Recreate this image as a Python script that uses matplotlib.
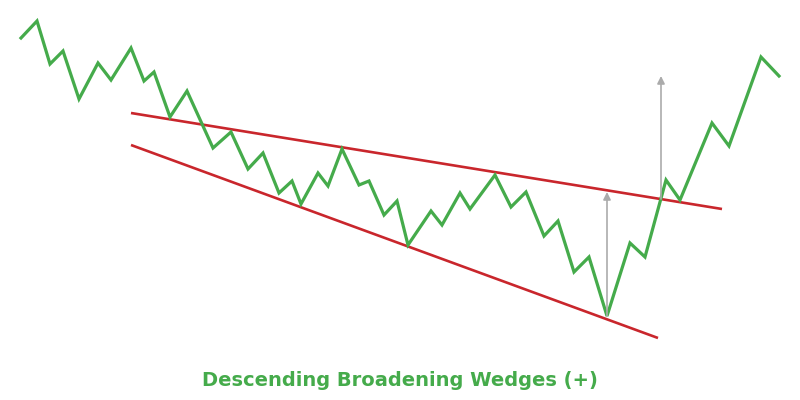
import matplotlib

matplotlib.use("Agg")

import matplotlib.pyplot as plt

# price path vertices (pixel-like units, y grows downward)
price_x = [21, 37, 50, 63, 79, 98, 111, 131, 144, 154, 170, 187, 213, 231, 248, 263,
           279, 292, 301, 318, 328, 342, 359, 369, 384, 397, 408, 431, 442, 460, 470,
           495, 511, 526, 544, 558, 574, 589, 607, 630, 645, 666, 680, 712, 729, 761, 779]
price_y = [38, 21, 64, 51, 99, 63, 80, 48, 81, 72, 117, 91, 148, 132, 169, 153,
           193, 181, 204, 173, 186, 149, 185, 181, 215, 201, 245, 211, 225, 193, 209,
           175, 207, 192, 236, 221, 272, 257, 316, 243, 257, 180, 200, 123, 146, 57, 76]

# wedge boundaries
upper_x = [131, 722]
upper_y = [113, 209]
lower_x = [131, 658]
lower_y = [145, 338]

# target arrows: (x, start y, end y)
arrow_x = [607, 661]
arrow_y0 = [316, 199]
arrow_y1 = [192, 76]

title = "Descending Broadening Wedges (+)"

green = "#45ab4b"
red = "#c9262c"
gray = "#ababab"

fig = plt.figure(figsize=(8, 4), dpi=100)
ax = fig.add_axes([0, 0, 1, 1])
ax.set_xlim(0, 800)
ax.set_ylim(400, 0)
ax.axis("off")

for x, y0, y1 in zip(arrow_x, arrow_y0, arrow_y1):
    ax.annotate("", xy=(x, y1), xytext=(x, y0),
                arrowprops=dict(arrowstyle="-|>", color=gray, lw=1.2,
                                mutation_scale=11, shrinkA=0, shrinkB=0))

ax.plot(upper_x, upper_y, color=red, lw=1.9, solid_capstyle="butt")
ax.plot(lower_x, lower_y, color=red, lw=1.9, solid_capstyle="butt")
ax.plot(price_x, price_y, color=green, lw=2.3, solid_joinstyle="miter")

ax.text(400, 380, title, ha="center", va="center", color=green,
        fontsize=14, fontweight="bold", family="DejaVu Sans")

fig.savefig("out.png", dpi=100)
plt.close(fig)
